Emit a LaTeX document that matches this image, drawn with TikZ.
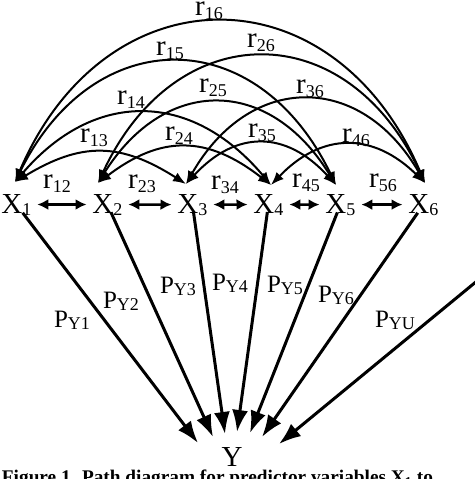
\documentclass[tikz,border=0pt]{standalone}
\usepackage{fontspec}
\setmainfont{Liberation Serif}
\usetikzlibrary{arrows.meta}

\newcommand{\lowsub}[2]{\raisebox{-#1}{\fontsize{18}{18}\selectfont #2}}

\tikzset{
  varnode/.style={anchor=base west,inner sep=0.75pt,font=\fontsize{29}{30}\selectfont},
  rlabel/.style={anchor=base,inner sep=0.75pt,font=\fontsize{29}{30}\selectfont},
  plabel/.style={anchor=base,inner sep=0.75pt,font=\fontsize{25}{26}\selectfont},
  corr/.style={line width=2pt,{Latex[length=13pt,width=10pt]}-{Latex[length=13pt,width=10pt]}},
  corrnear/.style={line width=2.5pt,{Latex[length=11pt,width=11pt]}-{Latex[length=11pt,width=11pt]},shorten <=5pt,shorten >=5pt},
  pathline/.style={line width=3pt,-{Latex[length=22pt,width=16pt]}}
}

\begin{document}
\begin{tikzpicture}[x=1pt,y=1pt,yscale=-1]
\useasboundingbox (0,0) rectangle (474,479);

% Variables
\node[varnode] (X1) at (0.5,213) {X\lowsub{2pt}{1}};
\node[varnode] (X2) at (91.5,213) {X\lowsub{2pt}{2}};
\node[varnode] (X3) at (176.5,213) {X\lowsub{2pt}{3}};
\node[varnode] (X4) at (252.5,213) {X\lowsub{2pt}{4}};
\node[varnode] (X5) at (324.5,213) {X\lowsub{2pt}{5}};
\node[varnode] (X6) at (407.5,213) {X\lowsub{2pt}{6}};
\node[varnode,anchor=base] (Y) at (232,466) {Y};

% arc ends above the variables
\coordinate (top1) at (15,182);
\coordinate (top2) at (98,183);
\coordinate (top3) at (186,184);
\coordinate (top4) at (271,185);
\coordinate (top5) at (336,185);
\coordinate (top6) at (425,183);

% arrow tips round Y
\coordinate (in1) at (198,443);
\coordinate (in2) at (213,437);
\coordinate (in3) at (225,434);
\coordinate (in4) at (237,432);
\coordinate (in5) at (250,433);
\coordinate (in6) at (262,437);
\coordinate (in7) at (279,444);
\coordinate (Ue) at (477,281);

%Curve Lines
\draw[corr] (top1) .. controls (81,142) and (120,142) .. (top3);
\draw[corr] (top1) .. controls (94,90) and (191,90) .. (top4);
\draw[corr] (top1) .. controls (94,22) and (257,22) .. (top5);
\draw[corr] (top1) .. controls (106,-31) and (334,-31) .. (top6);
\draw[corr] (top2) .. controls (161,135) and (207,135) .. (top4);
\draw[corr] (top2) .. controls (165,76) and (269,76) .. (top5);
\draw[corr] (top2) .. controls (176,15) and (347,15) .. (top6);
\draw[corr] (top3) .. controls (236,130) and (286,130) .. (top5);
\draw[corr] (top3) .. controls (250,72) and (361,72) .. (top6);
\draw[corr] (top4) .. controls (322,132) and (373,132) .. (top6);

%Straight Lines
\draw[corrnear] (X1) -- (X2);
\draw[corrnear] (X2) -- (X3);
\draw[corrnear] (X3) -- (X4);
\draw[corrnear] (X4) -- (X5);
\draw[corrnear] (X5) -- (X6);

%Straight Lines
\draw[pathline,shorten <=-4pt] (X1) -- (in1);
\draw[pathline,shorten <=-4pt] (X2) -- (in2);
\draw[pathline,shorten <=-4pt] (X3) -- (in3);
\draw[pathline,shorten <=-4pt] (X4) -- (in4);
\draw[pathline,shorten <=-4pt] (X5) -- (in5);
\draw[pathline,shorten <=-4pt] (X6) -- (in6);
\draw[pathline] (Ue) -- (in7);

% Text Node
\node[rlabel] (r12) at (57,188) {r\lowsub{4pt}{12}};
\node[rlabel] (r23) at (142,188) {r\lowsub{4pt}{23}};
\node[rlabel] (r34) at (225,189) {r\lowsub{4pt}{34}};
\node[rlabel] (r45) at (306,187) {r\lowsub{4pt}{45}};
\node[rlabel] (r56) at (383,187) {r\lowsub{4pt}{56}};
\node[rlabel] (r13) at (94,142) {r\lowsub{4pt}{13}};
\node[rlabel] (r24) at (179,140) {r\lowsub{4pt}{24}};
\node[rlabel] (r35) at (262,137) {r\lowsub{4pt}{35}};
\node[rlabel] (r46) at (356,142) {r\lowsub{4pt}{46}};
\node[rlabel] (r14) at (131,104) {r\lowsub{4pt}{14}};
\node[rlabel] (r25) at (213,92) {r\lowsub{4pt}{25}};
\node[rlabel] (r36) at (310,93) {r\lowsub{4pt}{36}};
\node[rlabel] (r15) at (170,55) {r\lowsub{4pt}{15}};
\node[rlabel] (r26) at (261,47) {r\lowsub{4pt}{26}};
\node[rlabel] (r16) at (209,15) {r\lowsub{4pt}{16}};
% Text Node
\node[plabel] (p1) at (72,327) {P\lowsub{2pt}{Y1}};
\node[plabel] (p2) at (121,308) {P\lowsub{2pt}{Y2}};
\node[plabel] (p3) at (178,293) {P\lowsub{2pt}{Y3}};
\node[plabel] (p4) at (230,290) {P\lowsub{2pt}{Y4}};
\node[plabel] (p5) at (285,292) {P\lowsub{2pt}{Y5}};
\node[plabel] (p6) at (336,302) {P\lowsub{2pt}{Y6}};
\node[plabel] (pu) at (395,327) {P\lowsub{2pt}{YU}};
% Text Node
\node[anchor=base west,inner sep=0.75pt,font=\bfseries\fontsize{19.3}{20}\selectfont] (cap) at (1,483) {Figure 1. Path diagram for predictor variables X\textsubscript{1} to};

\end{tikzpicture}
\end{document}
